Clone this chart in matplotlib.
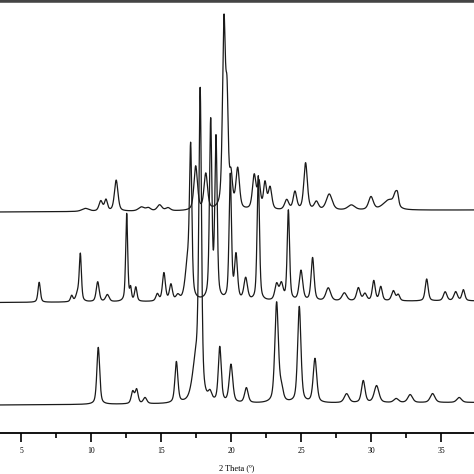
import numpy as np
import matplotlib
matplotlib.use("Agg")
import matplotlib.pyplot as plt
from matplotlib.ticker import MultipleLocator

# peak lists: 2theta (deg), height, fwhm (deg)
top_pos = [9.6, 10.7, 11.07, 11.8, 13.6, 14.1, 14.9, 15.5, 17.48, 18.2, 19.5, 19.72, 20.0, 20.48,
           21.66, 22.0, 22.43, 22.79, 23.98, 24.57, 25.33, 26.1, 27.02, 28.6, 30.0, 31.3, 31.75, 31.9]
top_int = [3, 10, 11, 31, 4, 3, 6, 3, 44, 36, 185, 95, 30, 40,
           34, 26, 26, 22, 10, 18, 47, 8, 16, 5, 13, 10, 11, 9]
top_fwhm = [0.6, 0.3, 0.25, 0.3, 0.5, 0.4, 0.4, 0.4, 0.3, 0.3, 0.25, 0.2, 0.25, 0.3,
            0.3, 0.25, 0.25, 0.3, 0.35, 0.3, 0.3, 0.35, 0.5, 0.6, 0.4, 1.0, 0.3, 0.2]
top_base = [212, 210]

mid_pos = [6.3, 8.62, 9.05, 9.24, 10.48, 11.17, 12.55, 12.83, 13.2, 14.74, 15.21, 15.71, 16.2,
           16.9, 17.12, 18.55, 18.93, 19.95, 20.36, 21.05, 21.95, 23.26, 23.6, 24.1, 25.0, 25.83,
           26.95, 28.1, 29.1, 29.57, 30.2, 30.7, 31.6, 31.95, 33.98, 35.3, 36.05, 36.6]
mid_int = [20, 6, 8, 46, 20, 7, 88, 12, 14, 7, 28, 16, 5,
           35, 143, 178, 160, 125, 44, 22, 125, 16, 16, 90, 30, 43,
           13, 8, 13, 7, 20, 14, 10, 6, 22, 9, 9, 11]
mid_fwhm = [0.2, 0.2, 0.3, 0.18, 0.25, 0.3, 0.17, 0.15, 0.2, 0.25, 0.25, 0.25, 0.3,
            0.4, 0.2, 0.2, 0.2, 0.2, 0.25, 0.3, 0.2, 0.3, 0.3, 0.2, 0.3, 0.25,
            0.4, 0.4, 0.3, 0.3, 0.25, 0.25, 0.3, 0.25, 0.25, 0.3, 0.3, 0.25]
mid_base = [302.5, 301]

bot_pos = [10.52, 12.98, 13.26, 13.86, 16.1, 17.5, 17.8, 18.5, 19.2, 20.0, 21.1, 23.26, 23.6,
           24.88, 26.0, 28.26, 29.45, 30.4, 31.8, 32.8, 34.4, 36.3]
bot_int = [57, 12, 14, 6, 41, 40, 296, 8, 55, 38, 15, 100, 12,
           96, 44, 9, 22, 17, 4, 8, 9, 5]
bot_fwhm = [0.24, 0.25, 0.25, 0.3, 0.25, 0.6, 0.22, 0.3, 0.25, 0.3, 0.3, 0.3, 0.3,
            0.28, 0.3, 0.4, 0.3, 0.4, 0.4, 0.4, 0.4, 0.4]
bot_base = [405, 402.5]

PLOT_TOP = 433  # pixel row of the x axis, heights are in pixels


def pattern(x, pos, inten, fwhm, base):
    y = np.interp(x, [x[0], x[-1]], base)
    y = PLOT_TOP - y
    for p, h, w in zip(pos, inten, fwhm):
        d = (x - p) / (w / 2)
        y = y + h * (0.5 / (1 + d ** 2) + 0.5 * np.exp(-np.log(2) * d ** 2))
    return y


x = np.linspace(3.5, 37.4, 4000)

fig = plt.figure(figsize=(4.74, 4.74), dpi=100)
ax = fig.add_axes([0, (474 - PLOT_TOP) / 474, 1, PLOT_TOP / 474])

for pos, inten, fwhm, base in [(top_pos, top_int, top_fwhm, top_base),
                               (mid_pos, mid_int, mid_fwhm, mid_base),
                               (bot_pos, bot_int, bot_fwhm, bot_base)]:
    ax.plot(x, pattern(x, pos, inten, fwhm, base), color='#1a1a1a', linewidth=0.9)

ax.set_xlim(3.5, 37.36)
ax.set_ylim(0, PLOT_TOP)
ax.set_yticks([])
ax.spines['left'].set_visible(False)
ax.spines['right'].set_visible(False)
ax.spines['top'].set_color('#444444')
ax.spines['top'].set_linewidth(4)
ax.spines['bottom'].set_linewidth(1.3)

ax.xaxis.set_major_locator(MultipleLocator(5))
ax.xaxis.set_minor_locator(MultipleLocator(2.5))
ax.tick_params(axis='x', which='major', direction='out', length=6.5, width=1.2, pad=3.5,
               labelsize=5.5, labelfontfamily='Liberation Serif')
ax.tick_params(axis='x', which='minor', direction='out', length=3.5, width=1.2)
ax.set_xlabel('2 Theta (º)', fontsize=6, fontfamily='Liberation Serif', labelpad=6.5)

fig.savefig('out.png', dpi=100)
